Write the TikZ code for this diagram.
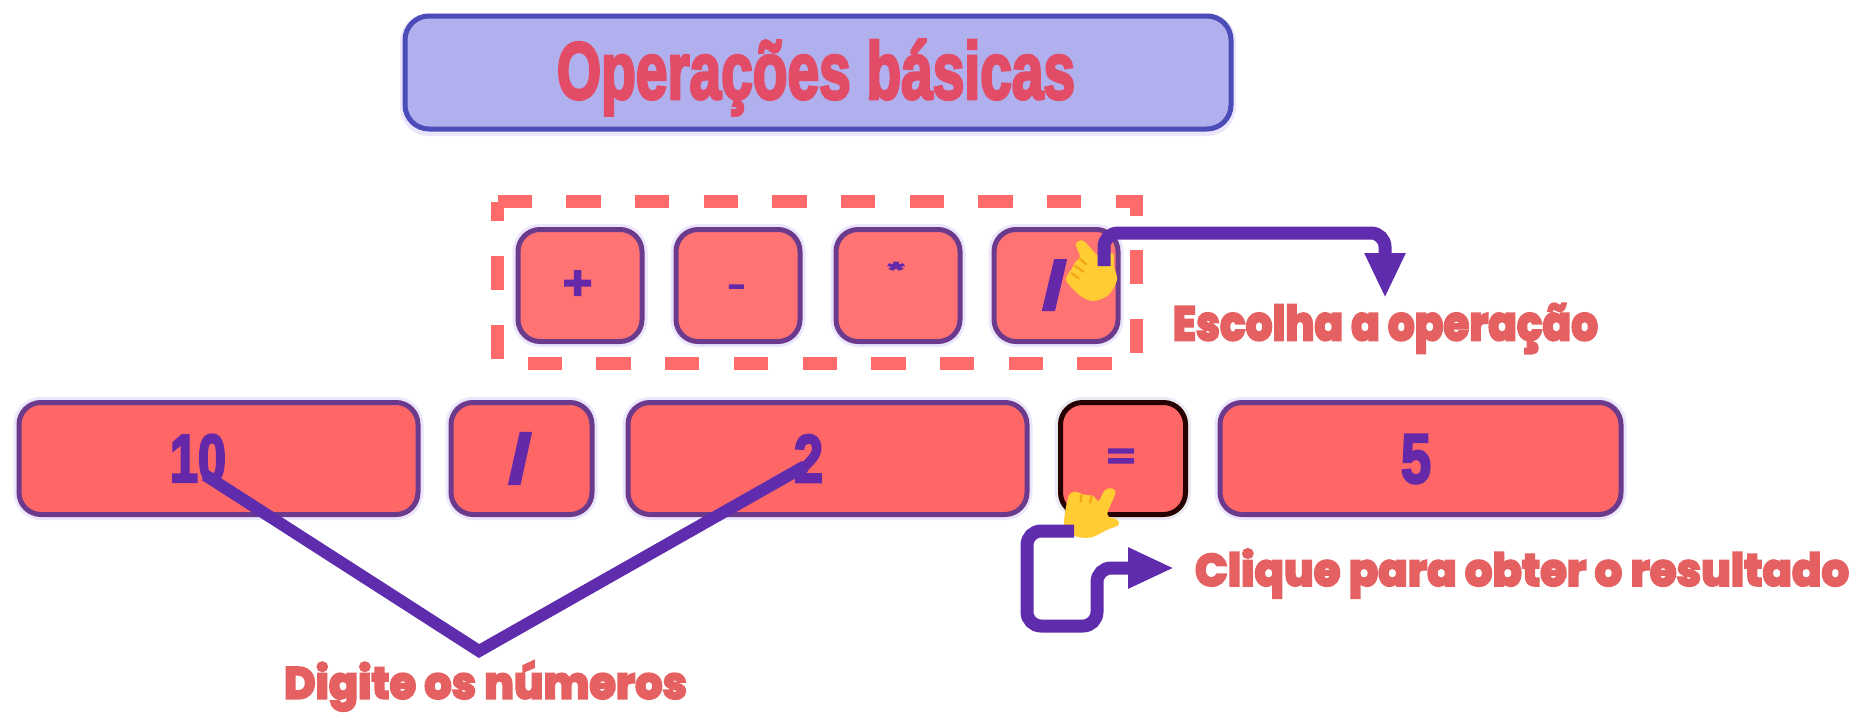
\documentclass[tikz,border=0pt]{standalone}
\usepackage{fontspec}
\usepackage{graphicx}
\usetikzlibrary{arrows.meta}
\setmainfont{Liberation Sans}
\newfontfamily\impactish[FakeBold=4]{Liberation Sans Bold}
\newfontfamily\heavyfont[FakeBold=4]{Poppins ExtraBold}
\definecolor{linep}{HTML}{5E2CAC}
\definecolor{labelr}{HTML}{E56060}
\definecolor{glyphp}{HTML}{6428A8}
\definecolor{rowfill}{HTML}{FF6666}
\definecolor{opfill}{HTML}{FF7373}
\definecolor{btnedge}{HTML}{6C3A8C}
\definecolor{glowc}{HTML}{ECE6FC}
\definecolor{titlefill}{HTML}{B0B0EE}
\definecolor{titleedge}{HTML}{4C4CB8}
\definecolor{titletext}{HTML}{E24C66}
\definecolor{handc}{HTML}{FFCC33}
\definecolor{handd}{HTML}{F2A81D}
\definecolor{dashc}{HTML}{FF6B6B}
\newcommand{\fitbox}[3]{\resizebox{#1pt}{#2pt}{#3}}
\tikzset{
  btn/.style={draw=btnedge,line width=5pt,rounded corners=22pt,inner sep=0pt,
    preaction={draw=glowc,line width=11pt}},
  rowbtn/.style={btn,fill=rowfill,minimum height=112pt},
  opbtn/.style={btn,fill=opfill,minimum width=124pt,minimum height=112pt},
  txt/.style={inner sep=0pt,outer sep=0pt},
  conn/.style={draw=linep,line width=13pt,rounded corners=14pt},
  hand/.style={fill=handc,draw=none},
  crease/.style={draw=handd,line width=2.4pt,line cap=round}
}
\begin{document}
\begin{tikzpicture}[x=1pt,y=-1pt]
\useasboundingbox[fill=white] (0,0) rectangle (1867,715);
% title
\node[draw=titleedge,line width=5pt,fill=titlefill,rounded corners=24pt,minimum width=826pt,minimum height=113pt,inner sep=0pt,
  preaction={draw=glowc,line width=10pt,transform canvas={yshift=-2pt}}] (title) at (818,72.5) {};
\node[txt,text=titletext] (titletxt) at (816,77.5) {\fitbox{518}{59}{\impactish Operações básicas}};
% dashed frame
\coordinate (fa) at (497.5,201.5);
\coordinate (fb) at (1136,201.5);
\coordinate (fc) at (1136,363);
\coordinate (fd) at (497.5,363);
\draw[draw=dashc,line width=13pt,dash pattern=on 34.3pt off 34.4pt] (fa) -- (fb) -- (fc) -- (fd) -- cycle;
% operator buttons
\node[opbtn] (bplus) at (580,285.5) {};
\node[opbtn] (bminus) at (738,285.5) {};
\node[opbtn] (bstar) at (898,285.5) {};
\node[opbtn] (bdiv) at (1056,285.5) {};
\node[txt,text=glyphp] (gplus) at (577.5,285) {\fitbox{29}{28}{\impactish +}};
\node[txt,text=glyphp] (gminus) at (736.5,289.5) {\fitbox{17}{9}{\impactish -}};
\node[txt,text=glyphp] (gstar) at (896,269.5) {\fitbox{16}{15}{\impactish *}};
\node[txt,text=glyphp] (gdiv) at (1054.5,285) {\fitbox{23}{48}{\impactish /}};
% row
\node[rowbtn,minimum width=399pt] (ba) at (218.5,458.5) {};
\node[rowbtn,minimum width=141pt] (bop) at (521.5,458.5) {};
\node[rowbtn,minimum width=399pt] (bb) at (827.5,458.5) {};
\node[rowbtn,minimum width=125pt,draw=black!85!red,preaction={draw=black!8,line width=9pt}] (beq) at (1123,458.5) {};
\node[rowbtn,minimum width=401pt] (bres) at (1420.5,458.5) {};
\node[txt,text=glyphp] (ta) at (198,458.5) {\fitbox{56}{47}{\impactish 10}};
\node[txt,text=glyphp] (top) at (520,458.5) {\fitbox{22}{49}{\impactish /}};
\node[txt,text=glyphp] (tb) at (808.5,458.5) {\fitbox{29}{47}{\impactish 2}};
\node[txt,text=glyphp] (teq) at (1121,458.5) {\fitbox{28}{19}{\impactish =}};
\node[txt,text=glyphp] (tres) at (1416,459) {\fitbox{30}{48}{\impactish 5}};
% hands
\begin{scope}[shift={(1050,225)},x=0.3333pt,y=-0.3333pt]
  \fill[hand] plot[smooth cycle,tension=0.55] coordinates {(77,58) (92,46) (108,54) (150,96) (188,84) (192,125) (201,165) (175,210) (130,228) (90,212) (50,170) (52,150) (65,132) (75,112) (90,95)};
  \draw[crease] (87,100) -- (108,117);
  \draw[crease] (75,122) -- (100,140);
  \draw[crease] (65,145) -- (86,160);
\end{scope}
\begin{scope}[shift={(1050,480)},x=0.3333pt,y=-0.3333pt]
  \fill[hand] plot[smooth cycle,tension=0.55] coordinates {(42,125) (55,50) (75,35) (95,42) (112,45) (130,48) (146,62) (165,30) (185,25) (196,40) (172,103) (200,118) (206,135) (170,150) (125,172) (80,170) (50,150)};
  \draw[crease] (95,45) -- (92,65);
  \draw[crease] (125,50) -- (120,68);
\end{scope}
% connectors
\coordinate (h1) at (1104,266);
\coordinate (h1a) at (1104,233);
\coordinate (h1b) at (1385,233);
\coordinate (tip1) at (1385,298);
\draw[conn,-{Triangle[width=38pt,length=45pt]}] (h1) -- (h1a) -- (h1b) -- (tip1);
\coordinate (h2) at (1074,531);
\coordinate (h2a) at (1027,531);
\coordinate (h2b) at (1027,626);
\coordinate (h2c) at (1097,626);
\coordinate (h2d) at (1097,568);
\coordinate (tip2) at (1174,568);
\draw[conn,-{Triangle[width=38pt,length=46pt]}] (h2) -- (h2a) -- (h2b) -- (h2c) -- (h2d) -- (tip2);
\coordinate (vtop) at (205,475);
\coordinate (vbot) at (479,651);
\coordinate (vend) at (805,466);
\draw[draw=linep,line width=12pt,line join=miter] (vtop) -- (vbot) -- (vend);
% labels
\node[txt,text=labelr] (lop) at (1385.5,328.5) {\fitbox{425}{37}{\heavyfont Escolha a operação}};
\node[txt,text=labelr] (lres) at (1522,573.5) {\fitbox{654}{37}{\heavyfont Clique para obter o resultado}};
\node[txt,text=labelr] (lnum) at (485.5,686) {\fitbox{403}{38}{\heavyfont Digite os números}};
\end{tikzpicture}
\end{document}
